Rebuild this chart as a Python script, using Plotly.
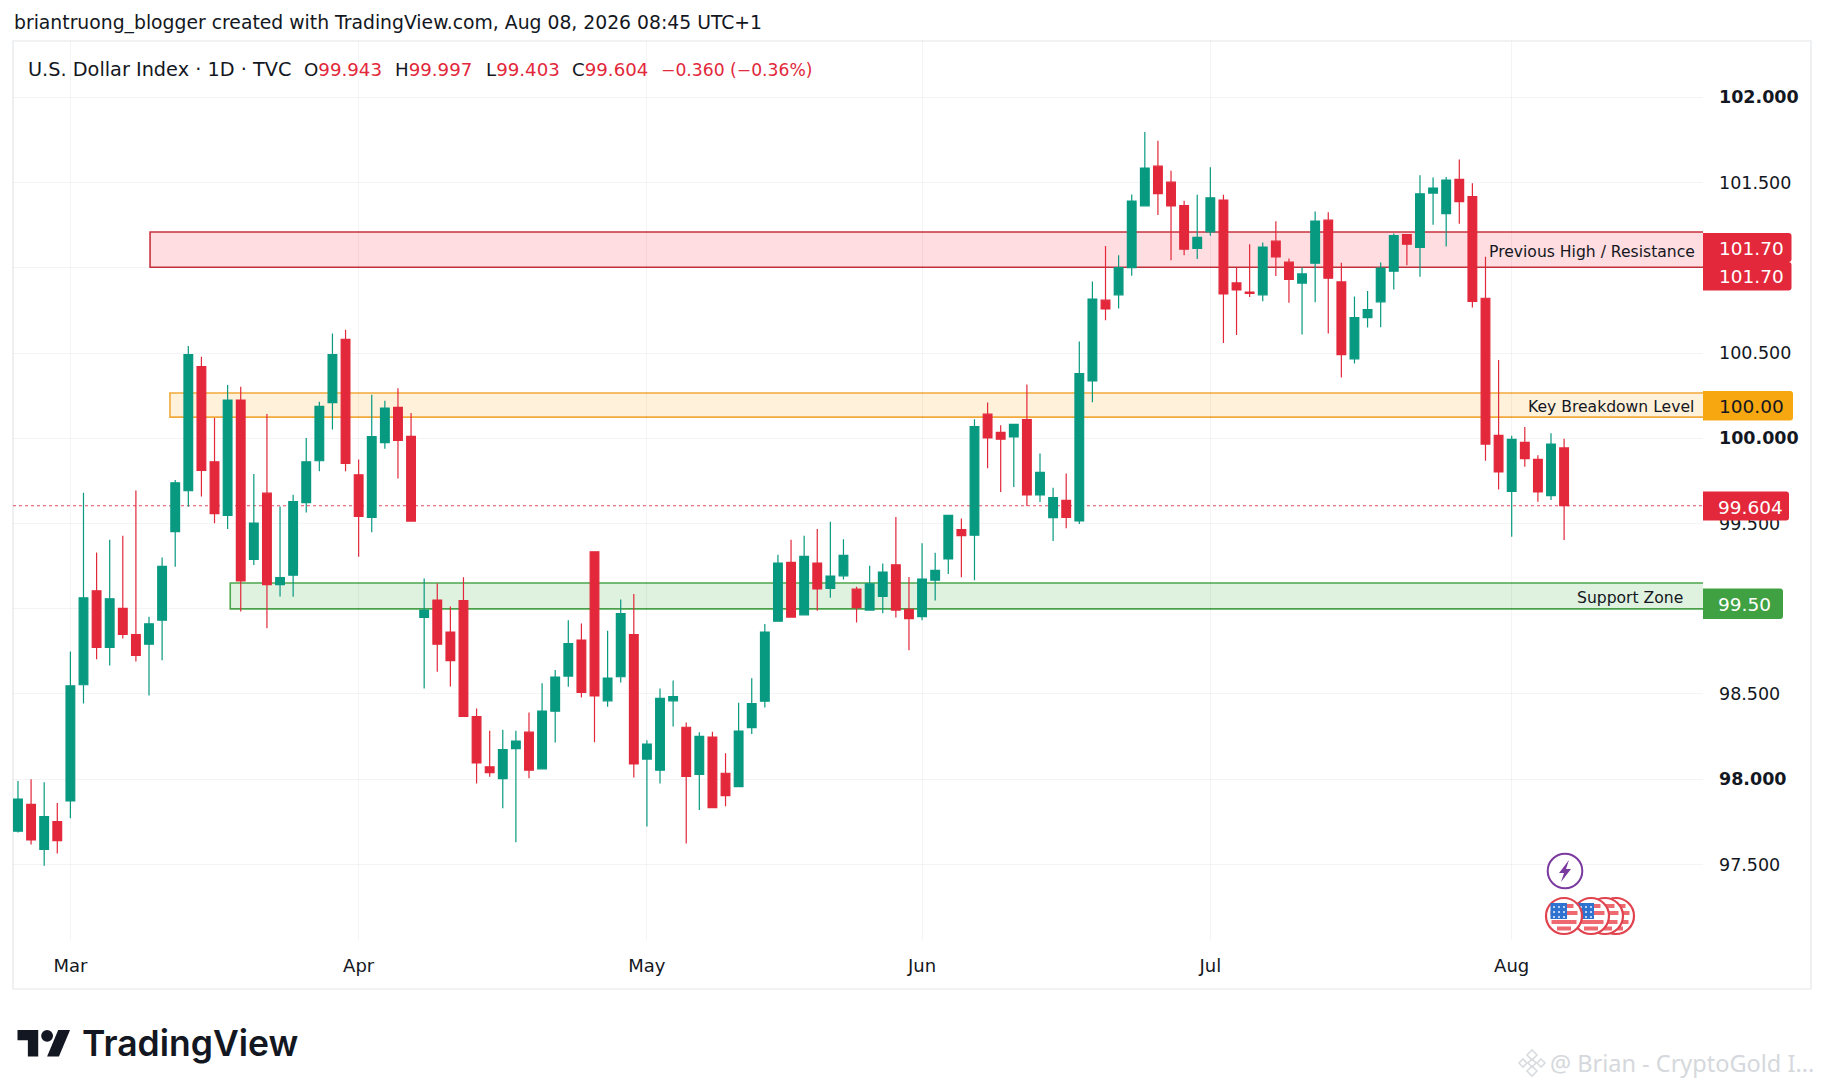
import plotly.graph_objects as go

# daily bars
opens = [97.695,97.853,97.589,97.752,97.873,98.554,99.105,98.773,99.002,98.849,98.792,98.933,99.452,99.692,100.420,99.862,99.547,100.224,99.289,99.678,
         99.142,99.197,99.622,99.868,100.209,100.580,99.786,99.536,99.974,100.181,100.011,98.949,99.051,98.863,99.047,98.368,98.073,98.004,98.180,98.276,
         98.061,98.399,98.605,98.816,99.334,98.460,98.601,98.849,98.118,98.053,98.460,98.305,98.028,98.247,98.035,97.957,98.303,98.458,98.927,99.272,
         98.964,99.268,99.119,99.193,99.115,98.992,99.072,99.258,98.997,98.954,99.167,99.292,99.464,99.431,100.141,100.035,100.008,100.110,99.667,99.534,
         99.636,99.515,100.336,100.810,100.841,101.001,101.363,101.596,101.502,101.365,101.113,101.211,101.397,100.911,100.857,100.841,101.156,101.033,100.910,101.027,
         101.279,100.917,100.466,100.708,100.800,100.980,101.195,101.119,101.438,101.318,101.518,101.418,100.821,100.017,99.688,99.976,99.876,99.663,99.943]
highs = [97.99,98.0,97.983,97.861,98.749,99.68,99.33,99.405,99.428,99.694,98.953,99.301,99.755,100.541,100.478,100.119,100.312,100.302,99.79,100.142,
         99.6,99.669,100.001,100.214,100.615,100.637,99.876,100.255,100.22,100.293,100.148,99.178,99.148,99.013,99.184,98.415,98.284,98.29,98.284,98.391,
         98.563,98.64,98.933,98.914,99.334,98.871,99.054,99.086,98.229,98.532,98.579,98.333,98.276,98.278,98.153,98.448,98.593,98.91,99.317,99.405,
         99.428,99.467,99.51,99.408,99.129,99.252,99.266,99.538,99.186,99.384,99.329,99.548,99.529,100.111,100.209,100.076,100.082,100.315,99.91,99.709,
         99.793,100.567,100.919,101.127,101.074,101.43,101.796,101.745,101.569,101.393,101.428,101.59,101.428,101.003,101.138,101.148,101.273,101.054,101.001,101.33,
         101.326,101.029,100.831,100.863,101.031,101.201,101.195,101.543,101.53,101.533,101.635,101.496,101.065,100.459,100.015,100.066,99.9,100.029,99.997]
lows = [97.687,97.617,97.492,97.564,97.771,98.444,98.704,98.667,98.826,98.691,98.491,98.698,99.246,99.598,99.659,99.502,99.467,98.984,99.256,98.886,
        99.072,99.07,99.565,99.806,100.052,99.806,99.305,99.448,99.939,99.764,99.514,98.532,98.63,98.544,98.368,97.975,98.014,97.83,97.63,98.006,
        98.061,98.215,98.542,98.479,98.217,98.425,98.567,98.01,97.722,97.975,98.309,97.623,97.82,97.834,97.842,97.957,98.266,98.421,98.927,98.951,
        98.964,98.988,99.064,99.172,98.919,98.992,98.974,98.949,98.756,98.932,99.049,99.204,99.184,99.167,99.824,99.685,99.714,99.603,99.626,99.398,
        99.472,99.497,100.211,100.692,100.761,100.953,101.363,101.309,101.044,101.074,101.052,101.187,100.559,100.606,100.829,100.804,100.951,100.794,100.608,100.798,
        100.614,100.356,100.438,100.649,100.651,100.872,101.015,100.947,101.252,101.125,101.258,100.767,99.868,99.7,99.422,99.833,99.628,99.638,99.403]
closes = [97.883,97.644,97.781,97.640,98.548,99.064,98.773,99.058,98.849,98.726,98.912,99.248,99.739,100.490,99.811,99.557,100.224,99.164,99.502,99.142,
          99.182,99.628,99.862,100.187,100.490,99.853,99.542,100.009,100.177,99.987,99.514,98.992,98.792,98.695,98.368,98.096,98.039,98.174,98.223,98.053,
          98.399,98.599,98.796,98.509,98.489,98.593,98.972,98.090,98.206,98.475,98.485,98.016,98.251,97.834,97.904,98.282,98.444,98.863,99.268,98.951,
          99.307,99.117,99.191,99.313,99.006,99.146,99.215,98.992,98.942,99.174,99.225,99.548,99.429,100.068,100.002,99.994,100.082,99.667,99.800,99.652,
          99.536,100.379,100.816,100.759,101.001,101.391,101.584,101.434,101.363,101.109,101.179,101.410,100.847,100.870,100.849,101.121,101.064,100.931,100.964,101.273,
          100.939,100.491,100.708,100.755,100.998,101.189,101.138,101.434,101.467,101.514,101.387,100.802,99.966,99.802,99.994,99.880,99.686,99.966,99.604]

month_bars = [4, 26, 48, 69, 91, 114]
month_names = ['Mar', 'Apr', 'May', 'Jun', 'Jul', 'Aug']
price_ticks = [102, 101.5, 101, 100.5, 100, 99.5, 99, 98.5, 98, 97.5]
bold_ticks = [102, 100, 98]
hidden_ticks = [101, 99]  # sit under the price tags, only the grid line shows

zone_names = ['Previous High / Resistance', 'Key Breakdown Level', 'Support Zone']
zone_start = [10.08, 11.6, 16.2]
zone_low = [101.003, 100.124, 98.999]
zone_high = [101.21, 100.265, 99.151]
zone_line = ['#C8323E', '#F2A93B', '#4CA64C']
zone_fill = ['#FFDDE0', '#FFF1DA', '#DFF1DF']

W, H = 1824, 1088
PL, PR, PT, PB = 13, 1703, 41, 940
GREEN, RED = '#089981', '#E2283A'
FONT = 'DejaVu Sans'
GRID = 'rgba(42,46,57,0.05)'

def px(x):
    return (x - PL) / (PR - PL)

def py(y):
    return (PB - y) / (PB - PT)

def rbox(x0, y0, x1, y1, col, r=3):
    p = (f'M{px(x0+r)},{py(y0)} L{px(x1-r)},{py(y0)} Q{px(x1)},{py(y0)} {px(x1)},{py(y0+r)} '
         f'L{px(x1)},{py(y1-r)} Q{px(x1)},{py(y1)} {px(x1-r)},{py(y1)} L{px(x0)},{py(y1)} L{px(x0)},{py(y0)} Z')
    return dict(type='path', xref='paper', yref='paper', path=p, fillcolor=col, line_width=0, layer='above')

def poly(points, col):
    p = 'M' + ' L'.join(f'{px(x)},{py(y)}' for x, y in points) + ' Z'
    return dict(type='path', xref='paper', yref='paper', path=p, fillcolor=col, line_width=0, layer='above')

def circle(cx, cy, r, fill, line, lw):
    return dict(type='circle', xref='paper', yref='paper', x0=px(cx-r), x1=px(cx+r), y0=py(cy+r), y1=py(cy-r),
                fillcolor=fill, line=dict(color=line, width=lw), layer='above')

def rect(x0, y0, x1, y1, col):
    return dict(type='rect', xref='paper', yref='paper', x0=px(x0), x1=px(x1), y0=py(y1), y1=py(y0),
                fillcolor=col, line_width=0, layer='above')

def label(x, y, text, size=15.6, color='#131722', anchor='left', family=FONT, weight=None):
    return dict(xref='paper', yref='paper', x=px(x), y=py(y), text=text, showarrow=False, xanchor=anchor, yanchor='middle',
                font=dict(family=family, size=size, color=color, weight=weight))

tick_text = ['' if t in hidden_ticks else f'<b>{t:.3f}</b>' if t in bold_ticks else f'{t:.3f}' for t in price_ticks]

fig = go.Figure(go.Candlestick(
    x=list(range(len(opens))), open=opens, high=highs, low=lows, close=closes,
    whiskerwidth=0,
    increasing=dict(line=dict(color=GREEN, width=1.2), fillcolor=GREEN),
    decreasing=dict(line=dict(color=RED, width=1.2), fillcolor=RED),
))

shapes = []
# pane border
shapes.append(dict(type='rect', xref='paper', yref='paper', x0=0, x1=px(1811), y0=py(989), y1=1,
                   line=dict(color='#E4E6EA', width=1.2), layer='below'))
# close line
shapes.append(dict(type='line', xref='paper', yref='y', x0=0, x1=1, y0=closes[-1], y1=closes[-1],
                   line=dict(color='#E2485A', width=1, dash='3px,3px'), layer='below'))
for i in range(len(zone_names)):
    shapes.append(dict(type='rect', xref='x', yref='y', x0=zone_start[i], x1=len(opens)+20, y0=zone_low[i], y1=zone_high[i],
                       fillcolor=zone_fill[i], line=dict(color=zone_line[i], width=1.6), layer='below'))

# price tags on the scale
shapes.append(rbox(PR, 233, 1791.5, 262, '#E2283A'))
shapes.append(rbox(PR, 262, 1791.5, 290.5, '#E2283A'))
shapes.append(rbox(PR, 391, 1793, 420.5, '#F7A70F'))
shapes.append(rbox(PR, 491.5, 1789, 520.5, '#E2283A'))
shapes.append(rbox(PR, 588.5, 1783, 619, '#3FA142'))

# logo
s, lx, ly = 1.48, 17.5, 1024
shapes.append(poly([(lx+s*a, ly+s*b) for a, b in [(14,22),(7,22),(7,11),(0,11),(0,4),(14,4)]], '#131722'))
shapes.append(poly([(lx+s*a, ly+s*b) for a, b in [(28,22),(20,22),(27.5,4),(35.5,4)]], '#131722'))
shapes.append(circle(lx+s*20, ly+s*8, s*4, '#131722', '#131722', 0))

# event marks
shapes.append(circle(1565, 871, 17.3, 'white', '#7B3A9E', 2))
shapes.append(poly([(1569,860),(1559,873),(1564,873),(1561,882),(1571,869),(1566,869)], '#7B3A9E'))
for cx in [1616, 1605, 1591, 1564]:
    shapes.append(circle(cx, 916, 18, 'white', '#E0424E', 2.2))
    for dy, half in [(-10, 9.5), (-3, 13.5), (6, 12.5), (12.5, 7)]:
        shapes.append(rect(cx-half, 916+dy-2, cx+half, 916+dy+2, '#EE6A70'))
    if cx < 1600:
        shapes.append(rect(cx-13.5, 903, cx+3, 919, '#2F72D0'))
        for row in range(3):
            for col in range(3):
                shapes.append(rect(cx-11+col*5, 906+row*5, cx-9+col*5, 908+row*5, '#BCD4F2'))

# watermark diamond
for ddx, ddy, r in [(0, -8, 5), (-9, 0, 4), (9, 0, 4), (0, 8, 5), (0, 0, 4)]:
    shapes.append(dict(type='path', xref='paper', yref='paper', layer='above', fillcolor='rgba(0,0,0,0)',
                       line=dict(color='#D8DBDF', width=1.6),
                       path=f'M{px(1532+ddx)},{py(1063+ddy-r)} L{px(1532+ddx+r)},{py(1063+ddy)} L{px(1532+ddx)},{py(1063+ddy+r)} L{px(1532+ddx-r)},{py(1063+ddy)} Z'))

notes = [
    label(11.5, 22.5, 'briantruong_blogger created with TradingView.com, Aug 08, 2026 08:45 UTC+1', size=18.8),
    label(26, 69.5, 'U.S. Dollar Index · 1D · TVC', size=19.3),
    label(302, 69.5, f'O<span style="color:{RED}">{opens[-1]:.3f}</span>', size=18.2),
    label(393, 69.5, f'H<span style="color:{RED}">{highs[-1]:.3f}</span>', size=18.2),
    label(484, 69.5, f'L<span style="color:{RED}">{lows[-1]:.3f}</span>', size=18.2),
    label(570, 69.5, f'C<span style="color:{RED}">{closes[-1]:.3f}</span>', size=18.2),
    label(659, 69.5, '−0.360 (−0.36%)', size=17.2, color=RED),
    label(1697, 251.5, zone_names[0], anchor='right'),
    label(1696, 406.5, zone_names[1], anchor='right'),
    label(1685, 598, zone_names[2], anchor='right'),
    label(1717, 248, '101.70', size=18.5, color='white'),
    label(1717, 276.5, '101.70', size=18.5, color='white'),
    label(1717, 406, '100.00', size=18.5),
    label(1715.5, 507, f'{closes[-1]:.3f}', size=18.5, color='white'),
    label(1716, 604, '99.50', size=18.5, color='white'),
    label(80, 1043, 'TradingView', size=35.5, family='Inter', weight=600),
    label(1548, 1063, '@ Brian - CryptoGold I...', size=23.5, color='#D5D8DC', family='Noto Sans'),
]

fig.update_layout(
    width=W, height=H, showlegend=False,
    paper_bgcolor='white', plot_bgcolor='white',
    margin=dict(l=PL, r=W-PR, t=PT, b=H-PB, autoexpand=False, pad=0),
    boxgap=0.05, boxgroupgap=0.3,
    shapes=shapes, annotations=notes,
    xaxis=dict(range=[-0.38, 128.6], rangeslider=dict(visible=False), tickmode='array',
               tickvals=month_bars, ticktext=month_names, showgrid=True, gridcolor=GRID, gridwidth=1,
               zeroline=False, showline=False, ticks='', ticklabelstandoff=13,
               tickfont=dict(family=FONT, size=18, color='#131722')),
    yaxis=dict(range=[97.057, 102.33], side='right', tickmode='array', tickvals=price_ticks, ticktext=tick_text,
               showgrid=True, gridcolor=GRID, gridwidth=1, zeroline=False, showline=False, ticks='',
               ticklabelstandoff=15, tickfont=dict(family=FONT, size=17.5, color='#131722')),
)

fig.write_html('out.html', config=dict(displayModeBar=False),
               post_script="document.body.style.margin='0';document.body.style.overflow='hidden';")
